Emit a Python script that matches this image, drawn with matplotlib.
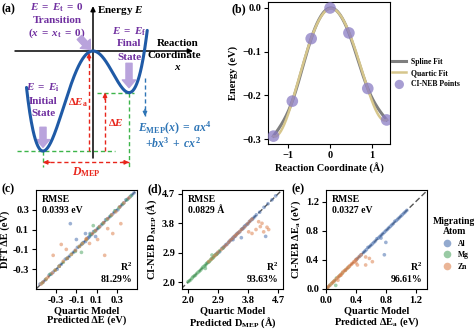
import numpy as np
import matplotlib
matplotlib.use("Agg")
import matplotlib.pyplot as plt
from matplotlib.lines import Line2D

plt.rcParams.update({
    "font.family": "Liberation Serif",
    "font.weight": "bold",
    "axes.labelweight": "bold",
    "mathtext.fontset": "custom",
    "mathtext.rm": "Liberation Serif:bold",
    "mathtext.it": "Liberation Serif:italic:bold",
    "mathtext.bf": "Liberation Serif:bold",
    "axes.linewidth": 0.8,
    "xtick.major.width": 0.8,
    "ytick.major.width": 0.8,
    "xtick.major.size": 3,
    "ytick.major.size": 3,
    "xtick.labelsize": 7.5,
    "ytick.labelsize": 7.5,
    "axes.labelsize": 7.5,
})

# ---------------- data ----------------
# (a) schematic quartic E(x) = a x^4 + b x^3 + c x^2
quartic_coef = [1.0, 0.3733, -1.44]
x_initial, x_final = -1.0, 0.72
schematic_range = [-1.33, 1.085]

# (b) CI-NEB images along the path
neb_x = [-1.35, -0.90, -0.45, 0.0, 0.45, 0.90, 1.35]
neb_e = [-0.293, -0.213, -0.070, 0.0, -0.057, -0.184, -0.256]

# (c) reaction energy: quartic prediction vs DFT
c_al_pred = [-0.46, -0.43, -0.41, -0.37, -0.35, -0.33, -0.29, -0.27, -0.25, -0.21, -0.19, -0.17,
             -0.13, -0.11, -0.09, -0.05, -0.03, -0.01, 0.01, 0.03, 0.05, 0.07, 0.09, 0.11, 0.13,
             0.15, 0.17, 0.19, 0.21, 0.23, 0.25, 0.27, 0.29, 0.31, 0.33, 0.35, 0.37, 0.39, 0.41,
             0.43, 0.45, 0.47, -0.16, -0.01, 0.035, 0.09, -0.10, 0.02]
c_al_true = [-0.45, -0.43, -0.41, -0.36, -0.35, -0.33, -0.30, -0.27, -0.25, -0.20, -0.19, -0.17,
             -0.13, -0.11, -0.08, -0.05, -0.03, -0.02, 0.01, 0.03, 0.05, 0.08, 0.09, 0.11, 0.13,
             0.15, 0.17, 0.20, 0.21, 0.23, 0.25, 0.27, 0.29, 0.30, 0.33, 0.35, 0.37, 0.40, 0.41,
             0.43, 0.45, 0.47, 0.16, 0.06, 0.06, 0.03, 0.00, 0.02]
c_mg_pred = [-0.44, -0.40, -0.36, -0.31, -0.27, -0.23, -0.19, -0.15, -0.11, -0.07, -0.04, 0.00,
             0.04, 0.08, 0.12, 0.16, 0.20, 0.24, 0.28, 0.32, 0.36, 0.40, 0.44, -0.05, 0.067]
c_mg_true = [-0.44, -0.40, -0.35, -0.31, -0.27, -0.23, -0.19, -0.15, -0.12, -0.07, -0.04, 0.00,
             0.05, 0.08, 0.12, 0.16, 0.20, 0.24, 0.29, 0.32, 0.36, 0.40, 0.44, -0.13, 0.14]
c_zn_pred = [-0.45, -0.43, -0.40, -0.38, -0.34, -0.31, -0.27, -0.23, -0.19, -0.15, -0.11, -0.07,
             0.00, 0.06, 0.09, 0.13, 0.17, 0.21, 0.25, 0.29, 0.33, 0.37, 0.42,
             -0.25, -0.20, -0.33, 0.18, 0.34, 0.21, 0.26, 0.11, -0.04, 0.03, -0.005]
c_zn_true = [-0.45, -0.43, -0.40, -0.38, -0.34, -0.31, -0.27, -0.22, -0.19, -0.15, -0.11, -0.07,
             0.01, 0.06, 0.09, 0.13, 0.17, 0.21, 0.25, 0.28, 0.33, 0.37, 0.42,
             -0.05, -0.10, -0.16, -0.16, 0.16, 0.11, 0.06, 0.00, -0.04, -0.04, 0.00]

# (d) migration path length
d_al_pred = [2.85, 2.90, 2.95, 3.02, 3.06, 3.10, 3.14, 3.18, 3.22, 3.25, 3.30, 3.33, 3.36, 3.39,
             3.42, 3.45, 3.48, 3.52, 3.55, 3.60, 3.63, 3.66, 3.69, 3.72, 3.76, 3.80, 3.84, 3.88,
             3.92, 3.95, 4.00, 4.05, 4.15, 4.28, 4.40, 4.52, 4.63, 3.60, 4.33, 3.35]
d_al_true = [2.86, 2.90, 2.93, 3.03, 3.06, 3.10, 3.15, 3.17, 3.22, 3.26, 3.30, 3.33, 3.37, 3.39,
             3.41, 3.46, 3.49, 3.52, 3.54, 3.61, 3.63, 3.65, 3.70, 3.73, 3.76, 3.79, 3.85, 3.89,
             3.92, 3.95, 4.00, 4.06, 4.14, 4.29, 4.40, 4.52, 4.64, 3.36, 3.40, 3.30]
d_mg_pred = [2.00, 2.04, 2.08, 2.12, 2.15, 2.19, 2.22, 2.26, 2.30, 2.34, 2.38, 2.42, 2.45, 2.49,
             2.52, 2.55, 2.58, 2.61, 2.64, 2.67, 2.70, 2.73, 2.76, 2.79, 2.82, 2.85, 2.88, 2.95,
             3.05, 2.72, 2.52]
d_mg_true = [2.01, 2.04, 2.07, 2.12, 2.16, 2.19, 2.21, 2.26, 2.30, 2.33, 2.37, 2.42, 2.46, 2.49,
             2.51, 2.56, 2.59, 2.61, 2.63, 2.67, 2.71, 2.73, 2.75, 2.80, 2.83, 2.85, 2.87, 2.96,
             3.04, 2.83, 2.42]
d_zn_pred = [2.62, 2.70, 2.78, 2.84, 2.90, 3.00, 3.08, 3.15, 3.22, 3.28, 3.34, 3.40, 3.45, 3.50,
             3.56, 3.62, 3.70, 3.78, 3.85, 3.92,
             4.12, 4.22, 4.17, 4.37, 4.42, 4.27, 4.04, 3.92, 3.82]
d_zn_true = [2.63, 2.70, 2.79, 2.84, 2.92, 3.00, 3.08, 3.14, 3.22, 3.29, 3.34, 3.41, 3.45, 3.50,
             3.56, 3.62, 3.69, 3.78, 3.86, 3.93,
             3.85, 3.80, 3.70, 3.68, 3.61, 3.54, 3.61, 3.49, 3.54]

# (e) activation energy
e_al_pred = [0.40, 0.42, 0.45, 0.47, 0.50, 0.52, 0.54, 0.56, 0.58, 0.60, 0.62, 0.64, 0.66, 0.68,
             0.70, 0.72, 0.74, 0.76, 0.78, 0.80, 0.82, 0.84, 0.86, 0.88, 0.90, 0.92, 0.94, 0.96,
             0.98, 1.00, 1.02, 1.04, 1.06, 1.08, 0.735, 0.80, 0.78]
e_al_true = [0.40, 0.42, 0.45, 0.47, 0.50, 0.52, 0.54, 0.57, 0.58, 0.60, 0.62, 0.64, 0.66, 0.69,
             0.70, 0.72, 0.74, 0.76, 0.78, 0.80, 0.82, 0.84, 0.86, 0.88, 0.90, 0.93, 0.94, 0.96,
             0.98, 1.00, 1.02, 1.04, 1.06, 1.08, 0.70, 0.64, 0.47]
e_mg_pred = [0.02, 0.05, 0.08, 0.11, 0.14, 0.18, 0.22, 0.26, 0.30, 0.13]
e_mg_true = [0.02, 0.05, 0.08, 0.11, 0.15, 0.18, 0.22, 0.26, 0.30, 0.05]
e_zn_pred = [0.02, 0.03, 0.05, 0.07, 0.09, 0.10, 0.12, 0.14, 0.16, 0.17, 0.19, 0.20, 0.22, 0.23,
             0.25, 0.26, 0.28, 0.29, 0.31, 0.32, 0.34, 0.35, 0.37, 0.38, 0.40, 0.41, 0.44, 0.47,
             0.20, 0.53, 0.58, 0.62, 0.53, 0.42, 0.40, 0.16]
e_zn_true = [0.02, 0.03, 0.05, 0.07, 0.09, 0.10, 0.12, 0.14, 0.16, 0.17, 0.19, 0.20, 0.22, 0.24,
             0.25, 0.26, 0.28, 0.29, 0.31, 0.32, 0.34, 0.35, 0.37, 0.38, 0.40, 0.41, 0.44, 0.47,
             0.19, 0.44, 0.42, 0.375, 0.33, 0.33, 0.36, 0.12]

atoms = ["Al", "Mg", "Zn"]
atom_colors = ["#4c72b0", "#55a868", "#dd8452"]

# ---------------- figure ----------------
W, H = 474, 330
fig = plt.figure(figsize=(W / 100, H / 100), dpi=100)


def frac_box(left, top, right, bottom):
    return [left / W, 1 - bottom / H, (right - left) / W, (bottom - top) / H]


# ======== (a) schematic ========
axa = fig.add_axes(frac_box(0, 0, 240, 175))
axa.set_xlim(-1.86, 2.94)
axa.set_ylim(-1.008, 0.4146)
axa.axis("off")

purple = "#7030a0"
lav = "#b9a3dc"
red = "#e8251b"
green = "#3db54a"
blue_txt = "#2e75b6"
curve_col = "#1f5aa6"


def energy(x):
    a, b, c = quartic_coef
    return a * x**4 + b * x**3 + c * x**2


e_i, e_f = energy(x_initial), energy(x_final)
xs = np.linspace(schematic_range[0], schematic_range[1], 300)

# coordinate axes
axa.annotate("", xy=(2.0, 0), xytext=(-1.56, 0),
             arrowprops=dict(arrowstyle="-|>", color="black", lw=1.1, mutation_scale=7,
                             shrinkA=0, shrinkB=0))
axa.annotate("", xy=(0, 0.365), xytext=(0, -0.87),
             arrowprops=dict(arrowstyle="-|>", color="black", lw=1.1, mutation_scale=7,
                             shrinkA=0, shrinkB=0))
axa.text(0.08, 0.333, r"Energy $E$", fontsize=8, va="center", ha="left")
axa.text(1.70, 0.065, "Reaction", fontsize=8, ha="center", va="center")
axa.text(1.62, -0.04, "Coordinate", fontsize=8, ha="center", va="center")
axa.text(1.70, -0.135, r"$x$", fontsize=8, ha="center", va="center")

dash = (0, (3, 2))


def dashed_arrow(p0, p1, color, both=False):
    axa.plot([p0[0], p1[0]], [p0[1], p1[1]], ls=dash, color=color, lw=1.0)
    ends = [(p1, p0)] + ([(p0, p1)] if both else [])
    for tip, tail in ends:
        d = np.array([tip[0] - tail[0], tip[1] - tail[1]])
        d = d / np.linalg.norm(d)
        axa.annotate("", xy=tip, xytext=(-d[0] * 5, -d[1] * 5), textcoords="offset points",
                     arrowprops=dict(arrowstyle="-|>", color=color, lw=1.0, mutation_scale=6,
                                     shrinkA=0, shrinkB=0))


# guide lines
axa.plot([-1.52, 0.44], [e_i, e_i], ls=dash, color=green, lw=1.0)
axa.plot([0.08, x_final + 0.1], [e_f, e_f], ls=dash, color=green, lw=1.0)
axa.plot([x_initial, x_initial], [e_i, -0.94], ls=dash, color=green, lw=1.0)
axa.plot([x_final, x_final], [e_f, -0.94], ls=dash, color=green, lw=1.0)

dashed_arrow((-0.08, e_i), (-0.08, -0.015), red)
dashed_arrow((0.24, e_i), (0.24, e_f), red)
dashed_arrow((x_initial, -0.905), (x_final, -0.905), red, both=True)
dashed_arrow((1.04, -0.22), (1.04, -0.53), blue_txt)

axa.text(-0.1, -0.42, r"$\Delta E_\mathrm{a}$", color=red, fontsize=8, ha="right", va="center")
axa.text(0.30, -0.585, r"$\Delta E$", color=red, fontsize=8, ha="left", va="center")
axa.text((x_initial + x_final) / 2, -0.985, r"$D_\mathrm{MEP}$", color=red, fontsize=8.5,
         ha="center", va="center")
axa.text(1.64, -0.632, r"$E_\mathrm{MEP}(x)\;=\;ax^4$", color=blue_txt, fontsize=8.5,
         ha="center", va="center")
axa.text(1.61, -0.752, r"$+bx^3\;+\;cx^2$", color=blue_txt, fontsize=8.5,
         ha="center", va="center")

# energy curve
axa.plot(xs, energy(xs), color=curve_col, lw=2.2, solid_capstyle="round", zorder=5)

# state labels
fat = dict(arrowstyle="simple,head_length=0.7,head_width=1.2,tail_width=0.55",
           color=lav, shrinkA=0, shrinkB=0, mutation_scale=8)
axa.annotate("", xy=(-0.05, 0.012), xytext=(-0.27, 0.11), arrowprops=fat, zorder=6)
axa.annotate("", xy=(x_initial, e_i + 0.03), xytext=(x_initial, -0.62), arrowprops=fat)
axa.annotate("", xy=(x_final, e_f + 0.04), xytext=(x_final, -0.10), arrowprops=fat)

for x0, lines in [(-0.72, [(0.35, r"$E\;=\;E_\mathrm{t}\;=\;0$"), (0.245, "Transition"),
                           (0.146, r"$(x\;=\;x_\mathrm{t}\;=\;0)$")]),
                  (x_initial, [(-0.30, r"$E\;=\;E_\mathrm{i}$"), (-0.407, "Initial"),
                               (-0.512, "State")]),
                  (x_final, [(0.154, r"$E\;=\;E_\mathrm{f}$"), (0.057, "Final"),
                             (-0.049, "State")])]:
    for y0, s in lines:
        axa.text(x0, y0, s, color=purple, fontsize=8, ha="center", va="center")

fig.text(2 / W, 1 - 9 / H, "(a)", fontsize=8.5, va="center", ha="left")

# ======== (b) CI-NEB path ========
axb = fig.add_axes(frac_box(268, 2, 390, 144))


def natural_spline(x, y, xq):
    x = np.asarray(x, float)
    y = np.asarray(y, float)
    n = len(x)
    h = np.diff(x)
    A = np.zeros((n, n))
    r = np.zeros(n)
    A[0, 0] = A[-1, -1] = 1
    for i in range(1, n - 1):
        A[i, i - 1] = h[i - 1]
        A[i, i] = 2 * (h[i - 1] + h[i])
        A[i, i + 1] = h[i]
        r[i] = 3 * ((y[i + 1] - y[i]) / h[i] - (y[i] - y[i - 1]) / h[i - 1])
    c = np.linalg.solve(A, r)
    b = (np.diff(y) / h) - h * (2 * c[:-1] + c[1:]) / 3
    d = np.diff(c) / (3 * h)
    idx = np.clip(np.searchsorted(x, xq) - 1, 0, n - 2)
    t = xq - x[idx]
    return y[idx] + b[idx] * t + c[idx] * t**2 + d[idx] * t**3


xq = np.linspace(neb_x[0], neb_x[-1], 300)
axb.plot(xq, natural_spline(neb_x, neb_e, xq), color="#7f7f7f", lw=2.2, label="Spline Fit")
axb.plot(xq, np.polyval(np.polyfit(neb_x, neb_e, 4), xq), color="#d6c68c", lw=1.8,
         label="Quartic Fit")
axb.scatter(neb_x, neb_e, s=70, color="#8a7cc4", alpha=0.75, edgecolors="none",
            label="CI-NEB Points", zorder=5)
axb.set_xlim(-1.48, 1.43)
axb.set_ylim(-0.311, 0.0137)
axb.set_xticks([-1, 0, 1])
axb.set_yticks([0.0, -0.1, -0.2, -0.3])
axb.set_xlabel("Reaction Coordinate (Å)", labelpad=2)
axb.set_ylabel("Energy (eV)", labelpad=3)
axb.tick_params(pad=2)
axb.legend(loc="center left", bbox_to_anchor=(1.02, 0.50), bbox_transform=axb.transAxes,
           frameon=False, fontsize=5.5, handlelength=1.8, handletextpad=0.6,
           labelspacing=0.45, borderaxespad=0, borderpad=0, markerscale=0.8)
fig.text(231 / W, 1 - 9 / H, "(b)", fontsize=8.5, va="center", ha="left")

# ======== (c)-(e) parity plots ========
panels = [
    ("(c)", 36, (-0.5, 0.5), (-0.5, 0.5), [-0.3, -0.1, 0.1, 0.3], [-0.3, -0.1, 0.1, 0.3],
     [(c_al_pred, c_al_true), (c_mg_pred, c_mg_true), (c_zn_pred, c_zn_true)],
     "Quartic Model\nPredicted ΔE (eV)", "DFT ΔE (eV)", "RMSE\n0.0393 eV", "81.29%"),
    ("(d)", 182, (1.82, 4.85), (1.79, 4.82), [2.0, 2.9, 3.8, 4.7], [2.0, 2.9, 3.8, 4.7],
     [(d_al_pred, d_al_true), (d_mg_pred, d_mg_true), (d_zn_pred, d_zn_true)],
     "Quartic Model\nPredicted D$_\\mathrm{MEP}$ (Å)", "CI-NEB D$_\\mathrm{MEP}$ (Å)",
     "RMSE\n0.0829 Å", "93.63%"),
    ("(e)", 326, (0.0, 1.35), (0.0, 1.36), [0.0, 0.4, 0.8, 1.2], [0.0, 0.4, 0.8, 1.2],
     [(e_al_pred, e_al_true), (e_mg_pred, e_mg_true), (e_zn_pred, e_zn_true)],
     "Quartic Model\nPredicted ΔE$_\\mathrm{a}$ (eV)", "CI-NEB ΔE$_\\mathrm{a}$ (eV)",
     "RMSE\n0.0327 eV", "96.61%"),
]

for tag, left, xl, yl, xt, yt, series, xlab, ylab, rmse, r2 in panels:
    ax = fig.add_axes(frac_box(left, 190, left + 101, 289))
    lo, hi = min(xl[0], yl[0]), max(xl[1], yl[1])
    ax.plot([lo, hi], [lo, hi], ls=(0, (4, 2)), color="#555555", lw=1.0, zorder=1)
    for (p, t), col in zip(series, atom_colors):
        ax.scatter(p, t, s=7, color=col, alpha=0.55, edgecolors="none", zorder=2)
    ax.set_xlim(*xl)
    ax.set_ylim(*yl)
    ax.set_xticks(xt)
    ax.set_yticks(yt)
    ax.set_xticklabels([f"{v:.1f}" for v in xt])
    ax.set_yticklabels([f"{v:.1f}" for v in yt])
    ax.tick_params(pad=2)
    ax.set_xlabel(xlab, labelpad=1, linespacing=1.0, fontsize=7.5)
    ax.set_ylabel(ylab, labelpad=2)
    ax.text(0.06, 0.95, rmse, transform=ax.transAxes, fontsize=7, va="top", ha="left",
            linespacing=1.3)
    ax.text(0.95, 0.05, "R$^2$\n" + r2, transform=ax.transAxes, fontsize=7, va="bottom",
            ha="right", multialignment="right", linespacing=1.3)
    fig.text((left - 34) / W, 1 - 189 / H, tag, fontsize=8.5, va="center", ha="left")
    if tag == "(e)":
        handles = [Line2D([], [], ls="none", marker="o", markersize=5.5, color=c, alpha=0.6,
                          markeredgewidth=0) for c in atom_colors]
        leg = ax.legend(handles, atoms, title="Migrating\nAtom", loc="upper left",
                        bbox_to_anchor=(1.03, 0.76), frameon=False, fontsize=5.5,
                        title_fontsize=7, handletextpad=0.4, labelspacing=0.45,
                        borderaxespad=0)
        leg.get_title().set_fontweight("bold")
        leg.get_title().set_multialignment("center")

fig.savefig("out.png", dpi=100)
